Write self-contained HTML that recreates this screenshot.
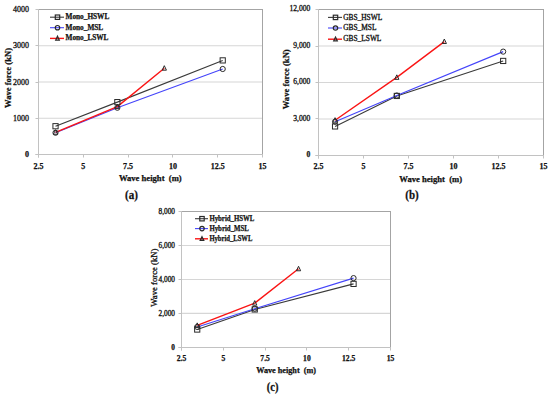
<!DOCTYPE html>
<html><head><meta charset="utf-8">
<style>
html,body{margin:0;padding:0;background:#fff;}
body{width:550px;height:395px;overflow:hidden;}
svg{display:block;}
text{font-family:"Liberation Serif", serif;fill:#111;}
text{stroke:#111;stroke-width:.25px;}
text[font-weight="normal"]{stroke:#111;stroke-width:.3px;}
</style></head>
<body>
<svg width="550" height="395" viewBox="0 0 550 395">
<rect width="550" height="395" fill="#fff"/>
<line x1="39" y1="118.18" x2="262" y2="118.18" stroke="#d6d6d6" stroke-width="1.1"/>
<line x1="39" y1="81.95" x2="262" y2="81.95" stroke="#d6d6d6" stroke-width="1.1"/>
<line x1="39" y1="45.72" x2="262" y2="45.72" stroke="#d6d6d6" stroke-width="1.1"/>
<line x1="38" y1="9.5" x2="262.5" y2="9.5" stroke="#a4a4a4" stroke-width="1"/>
<line x1="262.5" y1="9" x2="262.5" y2="154.5" stroke="#a4a4a4" stroke-width="1"/>
<line x1="38.5" y1="9" x2="38.5" y2="157.5" stroke="#c2c2c2" stroke-width="1"/>
<line x1="35.5" y1="154.5" x2="263" y2="154.5" stroke="#c2c2c2" stroke-width="1"/>
<line x1="35.5" y1="154.5" x2="38.5" y2="154.5" stroke="#c2c2c2" stroke-width="1"/>
<line x1="35.5" y1="118.5" x2="38.5" y2="118.5" stroke="#c2c2c2" stroke-width="1"/>
<line x1="35.5" y1="82.5" x2="38.5" y2="82.5" stroke="#c2c2c2" stroke-width="1"/>
<line x1="35.5" y1="45.5" x2="38.5" y2="45.5" stroke="#c2c2c2" stroke-width="1"/>
<line x1="35.5" y1="9.5" x2="38.5" y2="9.5" stroke="#c2c2c2" stroke-width="1"/>
<line x1="38.5" y1="154.5" x2="38.5" y2="157.5" stroke="#c2c2c2" stroke-width="1"/>
<line x1="83.5" y1="154.5" x2="83.5" y2="157.5" stroke="#c2c2c2" stroke-width="1"/>
<line x1="128.5" y1="154.5" x2="128.5" y2="157.5" stroke="#c2c2c2" stroke-width="1"/>
<line x1="172.5" y1="154.5" x2="172.5" y2="157.5" stroke="#c2c2c2" stroke-width="1"/>
<line x1="217.5" y1="154.5" x2="217.5" y2="157.5" stroke="#c2c2c2" stroke-width="1"/>
<line x1="262.5" y1="154.5" x2="262.5" y2="157.5" stroke="#c2c2c2" stroke-width="1"/>
<text x="29.0" y="157.22" text-anchor="end" font-size="8.0" font-weight="bold">0</text>
<text x="29.0" y="120.97" text-anchor="end" font-size="8.0" font-weight="normal">1000</text>
<text x="29.0" y="84.72" text-anchor="end" font-size="8.0" font-weight="normal">2000</text>
<text x="29.0" y="48.47" text-anchor="end" font-size="8.0" font-weight="normal">3000</text>
<text x="29.0" y="12.22" text-anchor="end" font-size="8.0" font-weight="normal">4000</text>
<text x="38.50" y="168.92" text-anchor="middle" font-size="8.0" font-weight="bold">2.5</text>
<text x="83.30" y="168.92" text-anchor="middle" font-size="8.0" font-weight="bold">5</text>
<text x="128.10" y="168.92" text-anchor="middle" font-size="8.0" font-weight="bold">7.5</text>
<text x="172.90" y="168.92" text-anchor="middle" font-size="8.0" font-weight="bold">10</text>
<text x="217.70" y="168.92" text-anchor="middle" font-size="8.0" font-weight="bold">12.5</text>
<text x="262.50" y="168.92" text-anchor="middle" font-size="8.0" font-weight="bold">15</text>
<text transform="translate(8.6,78.0) rotate(-90)" x="0" y="2.84" text-anchor="middle" font-size="8.6" font-weight="bold">Wave force (kN)</text>
<text x="150.3" y="181.3" text-anchor="middle" font-size="8.6" font-weight="bold" xml:space="preserve">Wave height  (m)</text>
<text transform="translate(131.4,198.6) scale(0.92,1)" text-anchor="middle" font-size="12" font-weight="bold">(a)</text>
<polyline points="55.52,126.22 117.35,102.12 222.72,60.39" fill="none" stroke="#3a3a3a" stroke-width="1.1" stroke-linejoin="round"/>
<polyline points="55.52,132.75 117.35,107.74 222.72,68.99" fill="none" stroke="#4444fa" stroke-width="1.1" stroke-linejoin="round"/>
<polyline points="55.52,132.31 117.35,106.65 164.30,68.23" fill="none" stroke="#fa1414" stroke-width="1.4" stroke-linejoin="round"/>
<rect x="52.92" y="123.62" width="5.20" height="5.20" fill="none" stroke="#2a2a2a" stroke-width="1.0"/>
<rect x="114.75" y="99.52" width="5.20" height="5.20" fill="none" stroke="#2a2a2a" stroke-width="1.0"/>
<rect x="220.12" y="57.79" width="5.20" height="5.20" fill="none" stroke="#2a2a2a" stroke-width="1.0"/>
<circle cx="55.52" cy="132.75" r="2.60" fill="none" stroke="#2a2a2a" stroke-width="1.0"/>
<circle cx="117.35" cy="107.74" r="2.60" fill="none" stroke="#2a2a2a" stroke-width="1.0"/>
<circle cx="222.72" cy="68.99" r="2.60" fill="none" stroke="#2a2a2a" stroke-width="1.0"/>
<polygon points="55.52,129.77 57.66,134.26 53.39,134.26" fill="none" stroke="#2a2a2a" stroke-width="1.0"/>
<polygon points="117.35,104.10 119.48,108.60 115.22,108.60" fill="none" stroke="#2a2a2a" stroke-width="1.0"/>
<polygon points="164.30,65.68 166.43,70.18 162.17,70.18" fill="none" stroke="#2a2a2a" stroke-width="1.0"/>
<line x1="50" y1="17.2" x2="64" y2="17.2" stroke="#3a3a3a" stroke-width="1.1"/>
<rect x="55.30" y="15.00" width="4.40" height="4.40" fill="none" stroke="#2a2a2a" stroke-width="1.2"/>
<text x="65.5" y="19.28" font-size="7.3" font-weight="bold">Mono_HSWL</text>
<line x1="50" y1="27.7" x2="64" y2="27.7" stroke="#4444fa" stroke-width="1.1"/>
<circle cx="57.50" cy="27.70" r="2.20" fill="none" stroke="#2a2a2a" stroke-width="1.2"/>
<text x="65.5" y="29.78" font-size="7.3" font-weight="bold">Mono_MSL</text>
<line x1="50" y1="38.4" x2="64" y2="38.4" stroke="#fa1414" stroke-width="1.4"/>
<polygon points="57.50,36.24 59.30,40.05 55.70,40.05" fill="none" stroke="#2a2a2a" stroke-width="1.2"/>
<text x="65.5" y="40.48" font-size="7.3" font-weight="bold">Mono_LSWL</text>
<line x1="319" y1="118.93" x2="543" y2="118.93" stroke="#d6d6d6" stroke-width="1.1"/>
<line x1="319" y1="82.45" x2="543" y2="82.45" stroke="#d6d6d6" stroke-width="1.1"/>
<line x1="319" y1="45.97" x2="543" y2="45.97" stroke="#d6d6d6" stroke-width="1.1"/>
<line x1="318" y1="9.5" x2="543.5" y2="9.5" stroke="#a4a4a4" stroke-width="1"/>
<line x1="543.5" y1="9" x2="543.5" y2="155.5" stroke="#a4a4a4" stroke-width="1"/>
<line x1="318.5" y1="9" x2="318.5" y2="158.5" stroke="#c2c2c2" stroke-width="1"/>
<line x1="315.5" y1="155.5" x2="544" y2="155.5" stroke="#c2c2c2" stroke-width="1"/>
<line x1="315.5" y1="155.5" x2="318.5" y2="155.5" stroke="#c2c2c2" stroke-width="1"/>
<line x1="315.5" y1="118.5" x2="318.5" y2="118.5" stroke="#c2c2c2" stroke-width="1"/>
<line x1="315.5" y1="82.5" x2="318.5" y2="82.5" stroke="#c2c2c2" stroke-width="1"/>
<line x1="315.5" y1="46.5" x2="318.5" y2="46.5" stroke="#c2c2c2" stroke-width="1"/>
<line x1="315.5" y1="9.5" x2="318.5" y2="9.5" stroke="#c2c2c2" stroke-width="1"/>
<line x1="318.5" y1="155.5" x2="318.5" y2="158.5" stroke="#c2c2c2" stroke-width="1"/>
<line x1="363.5" y1="155.5" x2="363.5" y2="158.5" stroke="#c2c2c2" stroke-width="1"/>
<line x1="408.5" y1="155.5" x2="408.5" y2="158.5" stroke="#c2c2c2" stroke-width="1"/>
<line x1="453.5" y1="155.5" x2="453.5" y2="158.5" stroke="#c2c2c2" stroke-width="1"/>
<line x1="498.5" y1="155.5" x2="498.5" y2="158.5" stroke="#c2c2c2" stroke-width="1"/>
<line x1="543.5" y1="155.5" x2="543.5" y2="158.5" stroke="#c2c2c2" stroke-width="1"/>
<text x="310.4" y="157.28" text-anchor="end" font-size="7.6" font-weight="bold">0</text>
<text x="310.4" y="120.78" text-anchor="end" font-size="7.6" font-weight="normal">3,000</text>
<text x="310.4" y="84.28" text-anchor="end" font-size="7.6" font-weight="normal">6,000</text>
<text x="310.4" y="47.78" text-anchor="end" font-size="7.6" font-weight="normal">9,000</text>
<text x="310.4" y="11.28" text-anchor="end" font-size="7.6" font-weight="normal">12,000</text>
<text x="318.50" y="168.72" text-anchor="middle" font-size="8.0" font-weight="bold">2.5</text>
<text x="363.50" y="168.72" text-anchor="middle" font-size="8.0" font-weight="bold">5</text>
<text x="408.50" y="168.72" text-anchor="middle" font-size="8.0" font-weight="bold">7.5</text>
<text x="453.50" y="168.72" text-anchor="middle" font-size="8.0" font-weight="bold">10</text>
<text x="498.50" y="168.72" text-anchor="middle" font-size="8.0" font-weight="bold">12.5</text>
<text x="543.50" y="168.72" text-anchor="middle" font-size="8.0" font-weight="bold">15</text>
<text transform="translate(286.4,79.3) rotate(-90)" x="0" y="2.84" text-anchor="middle" font-size="8.6" font-weight="bold">Wave force (kN)</text>
<text x="430.7" y="181.5" text-anchor="middle" font-size="8.6" font-weight="bold" xml:space="preserve">Wave height  (m)</text>
<text transform="translate(412.0,199.4) scale(0.92,1)" text-anchor="middle" font-size="12" font-weight="bold">(b)</text>
<polyline points="335.06,126.42 396.80,95.94 503.18,60.94" fill="none" stroke="#3a3a3a" stroke-width="1.1" stroke-linejoin="round"/>
<polyline points="335.06,121.71 396.80,95.52 503.18,51.62" fill="none" stroke="#4444fa" stroke-width="1.1" stroke-linejoin="round"/>
<polyline points="335.06,120.22 396.80,77.39 444.32,41.58" fill="none" stroke="#fa1414" stroke-width="1.4" stroke-linejoin="round"/>
<rect x="332.46" y="123.82" width="5.20" height="5.20" fill="none" stroke="#2a2a2a" stroke-width="1.0"/>
<rect x="394.20" y="93.34" width="5.20" height="5.20" fill="none" stroke="#2a2a2a" stroke-width="1.0"/>
<rect x="500.58" y="58.34" width="5.20" height="5.20" fill="none" stroke="#2a2a2a" stroke-width="1.0"/>
<circle cx="335.06" cy="121.71" r="2.60" fill="none" stroke="#2a2a2a" stroke-width="1.0"/>
<circle cx="396.80" cy="95.52" r="2.60" fill="none" stroke="#2a2a2a" stroke-width="1.0"/>
<circle cx="503.18" cy="51.62" r="2.60" fill="none" stroke="#2a2a2a" stroke-width="1.0"/>
<polygon points="335.06,117.67 337.19,122.17 332.93,122.17" fill="none" stroke="#2a2a2a" stroke-width="1.0"/>
<polygon points="396.80,74.84 398.93,79.34 394.67,79.34" fill="none" stroke="#2a2a2a" stroke-width="1.0"/>
<polygon points="444.32,39.04 446.45,43.53 442.19,43.53" fill="none" stroke="#2a2a2a" stroke-width="1.0"/>
<line x1="328" y1="17.4" x2="342" y2="17.4" stroke="#3a3a3a" stroke-width="1.1"/>
<rect x="333.30" y="15.20" width="4.40" height="4.40" fill="none" stroke="#2a2a2a" stroke-width="1.2"/>
<text x="343.2" y="19.52" font-size="7.4" font-weight="normal">GBS_HSWL</text>
<line x1="328" y1="28.0" x2="342" y2="28.0" stroke="#4444fa" stroke-width="1.1"/>
<circle cx="335.50" cy="28.00" r="2.20" fill="none" stroke="#2a2a2a" stroke-width="1.2"/>
<text x="343.2" y="30.12" font-size="7.4" font-weight="normal">GBS_MSL</text>
<line x1="328" y1="39.2" x2="342" y2="39.2" stroke="#fa1414" stroke-width="1.4"/>
<polygon points="335.50,37.04 337.30,40.85 333.70,40.85" fill="none" stroke="#2a2a2a" stroke-width="1.2"/>
<text x="343.2" y="41.32" font-size="7.4" font-weight="normal">GBS_LSWL</text>
<line x1="182" y1="313.42" x2="390" y2="313.42" stroke="#d6d6d6" stroke-width="1.1"/>
<line x1="182" y1="279.45" x2="390" y2="279.45" stroke="#d6d6d6" stroke-width="1.1"/>
<line x1="182" y1="245.47" x2="390" y2="245.47" stroke="#d6d6d6" stroke-width="1.1"/>
<line x1="181" y1="211.5" x2="390.5" y2="211.5" stroke="#a4a4a4" stroke-width="1"/>
<line x1="390.5" y1="211" x2="390.5" y2="347.5" stroke="#a4a4a4" stroke-width="1"/>
<line x1="181.5" y1="211" x2="181.5" y2="350.5" stroke="#c2c2c2" stroke-width="1"/>
<line x1="178.5" y1="347.5" x2="391" y2="347.5" stroke="#c2c2c2" stroke-width="1"/>
<line x1="178.5" y1="347.5" x2="181.5" y2="347.5" stroke="#c2c2c2" stroke-width="1"/>
<line x1="178.5" y1="313.5" x2="181.5" y2="313.5" stroke="#c2c2c2" stroke-width="1"/>
<line x1="178.5" y1="279.5" x2="181.5" y2="279.5" stroke="#c2c2c2" stroke-width="1"/>
<line x1="178.5" y1="245.5" x2="181.5" y2="245.5" stroke="#c2c2c2" stroke-width="1"/>
<line x1="178.5" y1="211.5" x2="181.5" y2="211.5" stroke="#c2c2c2" stroke-width="1"/>
<line x1="181.5" y1="347.5" x2="181.5" y2="350.5" stroke="#c2c2c2" stroke-width="1"/>
<line x1="223.5" y1="347.5" x2="223.5" y2="350.5" stroke="#c2c2c2" stroke-width="1"/>
<line x1="265.5" y1="347.5" x2="265.5" y2="350.5" stroke="#c2c2c2" stroke-width="1"/>
<line x1="306.5" y1="347.5" x2="306.5" y2="350.5" stroke="#c2c2c2" stroke-width="1"/>
<line x1="348.5" y1="347.5" x2="348.5" y2="350.5" stroke="#c2c2c2" stroke-width="1"/>
<line x1="390.5" y1="347.5" x2="390.5" y2="350.5" stroke="#c2c2c2" stroke-width="1"/>
<text x="175.0" y="349.98" text-anchor="end" font-size="7.3" font-weight="bold">0</text>
<text x="175.0" y="315.98" text-anchor="end" font-size="7.3" font-weight="normal">2,000</text>
<text x="175.0" y="281.98" text-anchor="end" font-size="7.3" font-weight="normal">4,000</text>
<text x="175.0" y="247.98" text-anchor="end" font-size="7.3" font-weight="normal">6,000</text>
<text x="175.0" y="213.98" text-anchor="end" font-size="7.3" font-weight="normal">8,000</text>
<text x="181.50" y="361.28" text-anchor="middle" font-size="7.6" font-weight="bold">2.5</text>
<text x="223.30" y="361.28" text-anchor="middle" font-size="7.6" font-weight="bold">5</text>
<text x="265.10" y="361.28" text-anchor="middle" font-size="7.6" font-weight="bold">7.5</text>
<text x="306.90" y="361.28" text-anchor="middle" font-size="7.6" font-weight="bold">10</text>
<text x="348.70" y="361.28" text-anchor="middle" font-size="7.6" font-weight="bold">12.5</text>
<text x="390.50" y="361.28" text-anchor="middle" font-size="7.6" font-weight="bold">15</text>
<text transform="translate(154.2,277.6) rotate(-90)" x="0" y="2.87" text-anchor="middle" font-size="8.7" font-weight="normal">Wave force (kN)</text>
<text x="286.1" y="373.1" text-anchor="middle" font-size="8.2" font-weight="bold" xml:space="preserve">Wave height  (m)</text>
<text transform="translate(272.6,391.1) scale(0.92,1)" text-anchor="middle" font-size="11.5" font-weight="bold">(c)</text>
<polyline points="197.22,329.53 254.73,309.45 353.55,283.90" fill="none" stroke="#3a3a3a" stroke-width="1.1" stroke-linejoin="round"/>
<polyline points="197.22,326.93 254.73,308.65 353.55,278.11" fill="none" stroke="#4444fa" stroke-width="1.1" stroke-linejoin="round"/>
<polyline points="197.22,325.43 254.73,303.16 298.54,268.82" fill="none" stroke="#fa1414" stroke-width="1.4" stroke-linejoin="round"/>
<rect x="194.62" y="326.93" width="5.20" height="5.20" fill="none" stroke="#2a2a2a" stroke-width="1.0"/>
<rect x="252.13" y="306.85" width="5.20" height="5.20" fill="none" stroke="#2a2a2a" stroke-width="1.0"/>
<rect x="350.95" y="281.30" width="5.20" height="5.20" fill="none" stroke="#2a2a2a" stroke-width="1.0"/>
<circle cx="197.22" cy="326.93" r="2.60" fill="none" stroke="#2a2a2a" stroke-width="1.0"/>
<circle cx="254.73" cy="308.65" r="2.60" fill="none" stroke="#2a2a2a" stroke-width="1.0"/>
<circle cx="353.55" cy="278.11" r="2.60" fill="none" stroke="#2a2a2a" stroke-width="1.0"/>
<polygon points="197.22,322.89 199.35,327.38 195.08,327.38" fill="none" stroke="#2a2a2a" stroke-width="1.0"/>
<polygon points="254.73,300.62 256.87,305.11 252.60,305.11" fill="none" stroke="#2a2a2a" stroke-width="1.0"/>
<polygon points="298.54,266.28 300.67,270.77 296.41,270.77" fill="none" stroke="#2a2a2a" stroke-width="1.0"/>
<line x1="195" y1="218.7" x2="208" y2="218.7" stroke="#3a3a3a" stroke-width="1.1"/>
<rect x="199.80" y="216.50" width="4.40" height="4.40" fill="none" stroke="#2a2a2a" stroke-width="1.2"/>
<text x="209.4" y="220.88" font-size="7.3" font-weight="bold" textLength="45.0" lengthAdjust="spacingAndGlyphs">Hybrid_HSWL</text>
<line x1="195" y1="228.6" x2="208" y2="228.6" stroke="#4444fa" stroke-width="1.1"/>
<circle cx="202.00" cy="228.60" r="2.20" fill="none" stroke="#2a2a2a" stroke-width="1.2"/>
<text x="209.4" y="230.78" font-size="7.3" font-weight="bold" textLength="39.5" lengthAdjust="spacingAndGlyphs">Hybrid_MSL</text>
<line x1="195" y1="238.8" x2="208" y2="238.8" stroke="#fa1414" stroke-width="1.4"/>
<polygon points="202.00,236.64 203.80,240.45 200.20,240.45" fill="none" stroke="#2a2a2a" stroke-width="1.2"/>
<text x="209.4" y="240.98" font-size="7.3" font-weight="bold" textLength="43.0" lengthAdjust="spacingAndGlyphs">Hybrid_LSWL</text>
</svg>
</body></html>
